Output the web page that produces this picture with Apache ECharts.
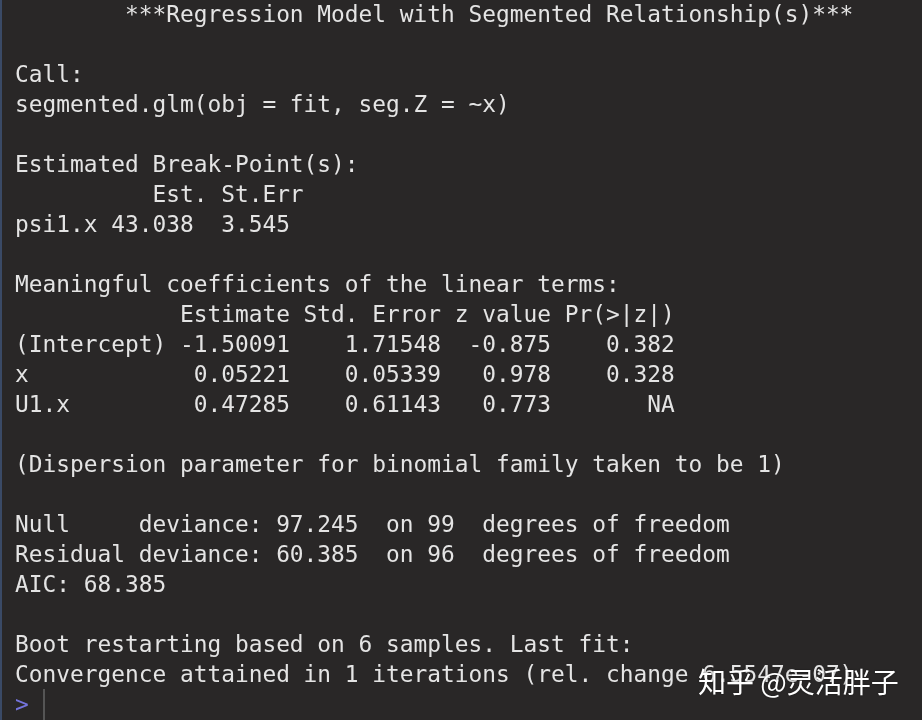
<!DOCTYPE html>
<html>
<head>
<meta charset="utf-8">
<script src="https://cdn.jsdelivr.net/npm/echarts@6/dist/echarts.min.js"></script>
<style>
html,body{margin:0;padding:0;background:#292727;}
#main{width:922px;height:720px;}
</style>
</head>
<body>
<div id="main"></div>
<script>
// ---- data ----
var titleText = '***Regression Model with Segmented Relationship(s)***';
var callText = 'segmented.glm(obj = fit, seg.Z = ~x)';
var psiName = 'psi1.x';
var psiEst = '43.038';
var psiSE = '3.545';
var coefNames = ['(Intercept)', 'x', 'U1.x'];
var coefEstimate = ['-1.50091', '0.05221', '0.47285'];
var coefStdError = ['1.71548', '0.05339', '0.61143'];
var coefZ = ['-0.875', '0.978', '0.773'];
var coefP = ['0.382', '0.328', 'NA'];
var nullDev = '97.245', nullDf = '99';
var resDev = '60.385', resDf = '96';
var aicValue = '68.385';
var bootSamples = '6';
var iterations = '1';
var relChange = '6.5547e-07';
var watermark = '知乎 @灵活胖子';

function padL(s, n){ s = String(s); while (s.length < n) s = ' ' + s; return s; }
function padR(s, n){ s = String(s); while (s.length < n) s += ' '; return s; }

var lines = [];
lines.push('        ' + titleText);
lines.push('');
lines.push('Call:');
lines.push(callText);
lines.push('');
lines.push('Estimated Break-Point(s):');
lines.push('          Est. St.Err');
lines.push(psiName + ' ' + psiEst + '  ' + psiSE);
lines.push('');
lines.push('Meaningful coefficients of the linear terms:');
lines.push(padR('', 11) + ' Estimate Std. Error z value Pr(>|z|)');
for (var i = 0; i < coefNames.length; i++) {
  lines.push(padR(coefNames[i], 11) + ' ' + padL(coefEstimate[i], 8) + ' ' +
             padL(coefStdError[i], 10) + ' ' + padL(coefZ[i], 7) + ' ' + padL(coefP[i], 8));
}
lines.push('');
lines.push('(Dispersion parameter for binomial family taken to be 1)');
lines.push('');
lines.push('Null     deviance: ' + nullDev + '  on ' + nullDf + '  degrees of freedom');
lines.push('Residual deviance: ' + resDev + '  on ' + resDf + '  degrees of freedom');
lines.push('AIC: ' + aicValue);
lines.push('');
lines.push('Boot restarting based on ' + bootSamples + ' samples. Last fit:');
lines.push('Convergence attained in ' + iterations + ' iterations (rel. change ' + relChange + ')');

// ---- layout ----
var X0 = 15, Y0 = 16, LH = 30;
var FONT = '22.84px "DejaVu Sans Mono", "Liberation Mono", monospace';
var elements = [];
elements.push({type:'rect', shape:{x:0,y:0,width:2,height:720}, style:{fill:'#3a4a66'}, z:1});
lines.forEach(function(t, k){
  if (!t) return;
  elements.push({
    type:'text', x:X0, y:Y0 + k*LH, z:5,
    style:{text:t, fill:'#e4e4e4', font:FONT, verticalAlign:'middle', align:'left'}
  });
});
var promptRow = lines.length;
elements.push({type:'text', x:X0, y:Y0 + promptRow*LH, z:5,
  style:{text:'>', fill:'#7474dc', font:FONT, verticalAlign:'middle'}});
elements.push({type:'rect', shape:{x:43,y:689,width:2,height:31}, style:{fill:'#555555'}, z:5});
elements.push({type:'text', x:698, y:682, z:10,
  style:{text:watermark, fill:'#ffffff', font:'28px "Noto Sans CJK SC"', verticalAlign:'middle',
         textShadowColor:'rgba(0,0,0,0.4)', textShadowBlur:2}});

var chart = echarts.init(document.getElementById('main'), null, {renderer:'canvas', width:922, height:720});
chart.setOption({
  backgroundColor:'#292727',
  animation:false,
  graphic:{elements:elements}
});
</script>
</body>
</html>
